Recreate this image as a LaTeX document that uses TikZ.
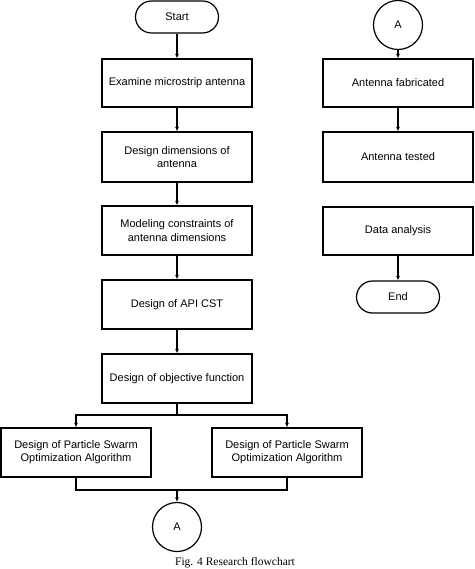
\documentclass[tikz,border=0pt]{standalone}
\usepackage{fontspec}
\setmainfont{Liberation Sans}
\newfontfamily\capfont{Liberation Serif}
\usetikzlibrary{arrows.meta}
\begin{document}
\begin{tikzpicture}[x=1pt,y=-1pt,
  every node/.style={font=\fontsize{11}{13.3}\selectfont},
  procbox/.style={draw,line width=1.2pt,minimum width=150pt,minimum height=49pt,align=center,inner sep=0pt},
  termbox/.style={draw,line width=1.2pt,minimum width=83pt,minimum height=32pt,rounded corners=16pt,inner sep=0pt},
  connbox/.style={draw,circle,line width=1.2pt,minimum size=49pt,inner sep=0pt},
  flow/.style={line width=1.2pt,-{Latex[length=4.5pt,width=4pt]}},
  plain/.style={line width=1.2pt}]
\useasboundingbox (0,0) rectangle (474,569);
% left column
\node[termbox] (start) at (177,17) {Start};
\node[procbox,minimum height=48pt] (b1) at (177,83) {Examine microstrip antenna};
\node[procbox,minimum height=50pt] (b2) at (177,157) {Design dimensions of\\antenna};
\node[procbox] (b3) at (177,230.5) {Modeling constraints of\\antenna dimensions};
\node[procbox] (b4) at (177,304.5) {Design of API CST};
\node[procbox] (b5) at (177,378.5) {Design of objective function};
\node[procbox] (p1) at (76,452.5) {Design of Particle Swarm\\Optimization Algorithm};
\node[procbox] (p2) at (287,452.5) {Design of Particle Swarm\\Optimization Algorithm};
\node[connbox] (a1) at (177,527) {A};
\coordinate (split) at (177,415);
\coordinate (merge) at (177,490);
\draw[flow] (start) -- (b1);
\draw[flow] (b1) -- (b2);
\draw[flow] (b2) -- (b3);
\draw[flow] (b3) -- (b4);
\draw[flow] (b4) -- (b5);
\draw[plain] (b5.south) -- (split);
\draw[flow] (split) -| (p1.north);
\draw[flow] (split) -| (p2.north);
\draw[plain] (p1.south) |- (merge);
\draw[plain] (p2.south) |- (merge);
\draw[flow] (merge) -- (a1.north);
% right column
\node[connbox] (a2) at (398,25) {A};
\node[procbox,minimum height=48pt] (r1) at (398,83) {Antenna fabricated};
\node[procbox,minimum height=50pt] (r2) at (398,157) {Antenna tested};
\node[procbox,minimum height=48pt] (r3) at (398,231) {Data analysis};
\node[termbox] (end) at (398,297) {End};
\draw[flow] (a2) -- (r1);
\draw[flow] (r1) -- (r2);
\draw[flow] (r3) -- (end);
% caption
\node[font=\capfont\fontsize{11.5}{13}\selectfont,anchor=base] (cap) at (235,565.5) {Fig. 4 Research flowchart};
\end{tikzpicture}
\end{document}
